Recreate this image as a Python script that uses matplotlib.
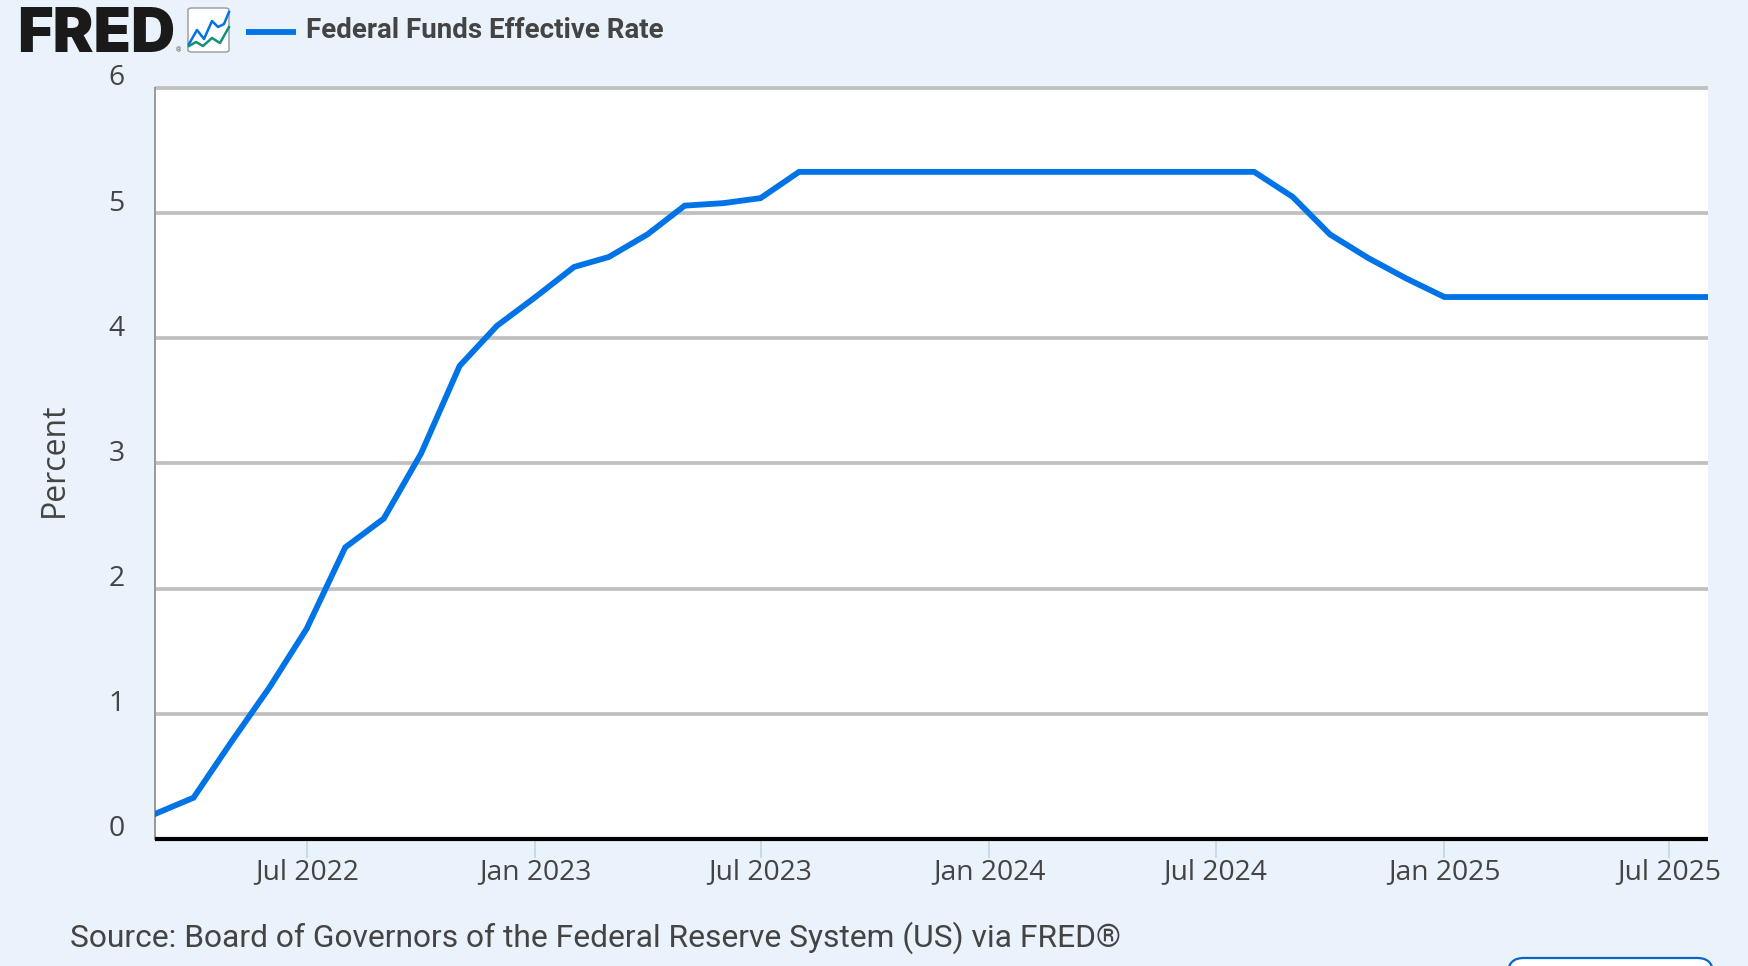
import numpy as np
import pandas as pd
import matplotlib
matplotlib.use('Agg')
import matplotlib.pyplot as plt
import matplotlib.dates as mdates
from matplotlib.patches import FancyBboxPatch
from matplotlib.lines import Line2D
from matplotlib.transforms import ScaledTranslation

# monthly, Mar 2022 to Aug 2025
dates = pd.date_range('2022-03-01', '2025-08-01', freq='MS')
rate = [0.20, 0.33, 0.77, 1.21, 1.68, 2.33, 2.56, 3.08, 3.78, 4.10,
        4.33, 4.57, 4.65, 4.83, 5.06, 5.08, 5.12, 5.33, 5.33, 5.33,
        5.33, 5.33, 5.33, 5.33, 5.33, 5.33, 5.33, 5.33, 5.33, 5.33,
        5.13, 4.83, 4.64, 4.48, 4.33, 4.33, 4.33, 4.33, 4.33, 4.33,
        4.33, 4.33]
y_ticks = [0, 1, 2, 3, 4, 5, 6]
x_ticks = ['2022-07-01', '2023-01-01', '2023-07-01', '2024-01-01',
           '2024-07-01', '2025-01-01', '2025-07-01']

series_name = 'Federal Funds Effective Rate'
source = 'Source: Board of Governors of the Federal Reserve System (US) via FRED®'

W, H = 1748, 966
bg = '#EAF2FB'
blue = '#0073E6'
txt = '#444444'


def fx(px):
    return px / W


def fy(py):
    return 1 - py / H


fig = plt.figure(figsize=(W / 100, H / 100), dpi=100, facecolor=bg)
ax = fig.add_axes([fx(155), fy(839), (1708 - 155) / W, (839 - 88) / H])

ax.plot(dates, rate, color=blue, lw=4.2, solid_joinstyle='miter', zorder=3, clip_on=True)
ax.set_xlim(pd.Timestamp('2022-03-01'), pd.Timestamp('2025-08-01'))
ax.set_ylim(0, 6)

ax.set_yticks(y_ticks)
ax.set_xticks(pd.to_datetime(x_ticks))
ax.xaxis.set_major_formatter(mdates.DateFormatter('%b %Y'))
ax.grid(axis='y', color='#C0C0C0', lw=2.7, zorder=1)
ax.set_axisbelow(True)
for g in ax.get_ygridlines():
    g.set_clip_on(False)
    g.set_solid_capstyle('butt')

for s in ['top', 'right']:
    ax.spines[s].set_visible(False)
ax.spines['left'].set_color('#999999')
ax.spines['left'].set_linewidth(1.4)
ax.spines['bottom'].set_color('black')
ax.spines['bottom'].set_linewidth(3)
ax.spines['bottom'].set_capstyle('butt')
ax.spines['bottom'].set_zorder(5)

ax.tick_params(axis='y', length=0, pad=22, labelsize=20.3, labelcolor=txt)
ax.tick_params(axis='x', length=14, width=1.3, color='#C8D5EA', pad=0, labelsize=20.3, labelcolor=txt)
for lab in ax.get_xticklabels() + ax.get_yticklabels():
    lab.set_fontfamily('Open Sans')
    lab.set_clip_on(False)
shift_down = ScaledTranslation(0, -4.5 / 100, fig.dpi_scale_trans)
for lab in ax.get_yticklabels():
    lab.set_verticalalignment('bottom')
    lab.set_transform(lab.get_transform() + shift_down)

fig.text(fx(54), fy(460), 'Percent', rotation=90, ha='center', va='center',
         fontsize=23, color=txt, family='Open Sans')

# header: logo + legend
fig.text(fx(17), fy(52), 'FRED', ha='left', va='baseline', fontsize=44,
         family='Inter', weight='black', color='#1A1A1A')
fig.text(fx(176), fy(52), '®', ha='left', va='baseline', fontsize=5,
         family='Roboto', color='#555555')

icon = FancyBboxPatch((fx(188), fy(52)), 41 / W, 44 / H, boxstyle='round,pad=0,rounding_size=0.002',
                      transform=fig.transFigure, fc='white', ec='#999999', lw=1)
fig.add_artist(icon)
icon_blue_x = [189, 197, 204, 212, 218, 224, 229]
icon_blue_y = [44, 30, 39, 21, 27, 24, 12]
icon_green_x = [189, 196, 203, 212, 220, 229]
icon_green_y = [46, 42, 46, 38, 43, 27]
fig.add_artist(Line2D([fx(v) for v in icon_blue_x], [fy(v) for v in icon_blue_y],
                      color=blue, lw=1.8, transform=fig.transFigure))
fig.add_artist(Line2D([fx(v) for v in icon_green_x], [fy(v) for v in icon_green_y],
                      color='#14907A', lw=1.8, transform=fig.transFigure))

fig.add_artist(Line2D([fx(246), fx(296)], [fy(32), fy(32)], color=blue, lw=4.2,
                      transform=fig.transFigure, solid_capstyle='butt'))
fig.text(fx(306), fy(30), series_name, ha='left', va='center', fontsize=20,
         family='Roboto', weight='bold', color=txt)

fig.text(fx(70), fy(938), source, ha='left', va='center', fontsize=22.9,
         family='Roboto', color=txt)

# cut-off button at the bottom edge
btn = FancyBboxPatch((fx(1508), fy(985)), 205 / W, 27 / H, boxstyle='round,pad=0,rounding_size=0.009',
                     transform=fig.transFigure, fc='white', ec='#0A66C2', lw=1.6,
                     mutation_aspect=W / H)
fig.add_artist(btn)

fig.savefig('out.png', dpi=100, facecolor=bg)
